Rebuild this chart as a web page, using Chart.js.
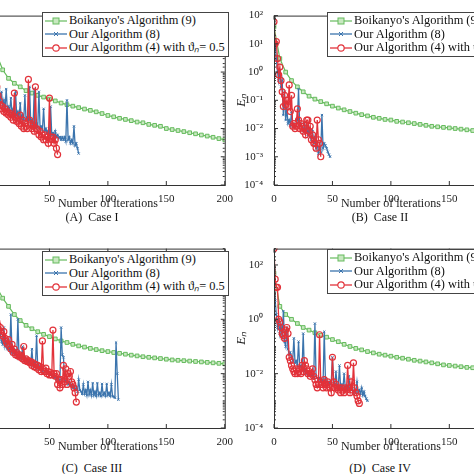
<!DOCTYPE html>
<html><head><meta charset="utf-8">
<script src="https://cdn.jsdelivr.net/npm/chart.js@4"></script>
<style>
body{margin:0;background:#fff;width:474px;height:474px;overflow:hidden;position:relative;font-family:"Liberation Serif",serif}
canvas{position:absolute}
.cap{position:absolute;font-size:12px;transform:translateX(-50%);white-space:nowrap;color:#111}
.leg{position:absolute;background:#fff;border:1px solid #444;font-size:12.4px;line-height:13px;padding:1px 3px 1px 2px;white-space:nowrap;color:#111}
.leg div{display:flex;align-items:center;height:13.5px}
.leg svg{margin-right:2px}
</style></head><body>
<canvas id="cA"></canvas><canvas id="cB"></canvas><canvas id="cC"></canvas><canvas id="cD"></canvas>
<div class="cap" style="left:92px;top:210px">(A)&nbsp; Case I</div>
<div class="cap" style="left:380px;top:210px">(B)&nbsp; Case II</div>
<div class="cap" style="left:92px;top:461px">(C)&nbsp; Case III</div>
<div class="cap" style="left:380px;top:461px">(D)&nbsp; Case IV</div>
<script>
// series names
const names = ["Boikanyo's Algorithm (9)", 'Our Algorithm (8)', 'Our Algorithm (4) with ϑ<i>ₙ</i> = 0.5'];
const greenStep = 5;

// Case I
const greenA = [30,4,1.2,0.6,0.4,0.3,0.22,0.18,0.15,0.13,0.11,0.095,0.08,0.07,0.062,0.055,0.049,0.044,0.039,0.034,0.029,0.026,0.023,0.021,0.019,0.017,0.016,0.014,0.013,0.012,0.01,0.0092,0.0085,0.0078,0.0071,0.0065,0.0059,0.0054,0.0049,0.0044,0.004];
const blueA = [30,5,2,1,0.5,0.3,0.15,0.25,0.08,0.2,
  0.06,0.1,0.05,0.25,0.045,0.06,0.04,0.12,0.035,0.05,
  0.03,0.2,0.03,0.04,0.025,0.08,0.022,0.03,0.02,0.15,
  0.02,0.025,0.018,0.3,0.015,0.02,0.013,0.25,0.012,0.015,
  0.011,0.2,0.01,0.012,0.009,0.05,0.008,0.01,0.007,0.008,
  0.006,0.06,0.006,0.007,0.005,0.008,0.005,0.006,0.0045,0.005,
  0.004,0.005,0.004,0.005,0.0035,0.1,0.004,0.005,0.003,0.004,
  0.003,0.012,0.0025,0.003,0.002,0.0013];
const redA = [40,8,3,1,0.6,0.3,0.15,0.1,0.07,0.05,
  0.06,0.04,0.05,0.035,0.04,0.03,0.035,0.025,0.03,0.02,
  0.18,0.025,0.018,0.02,0.015,0.03,0.012,0.02,0.01,0.015,
  0.012,0.01,0.55,0.02,0.015,0.01,0.012,0.008,0.3,0.01,
  0.009,0.006,0.008,0.005,0.006,0.004,0.006,0.004,0.005,0.003,
  0.12,0.005,0.004,0.005,0.003,0.004,0.002,0.0012];

// Case II
const greenB = [40,3,1,0.5,0.3,0.2,0.14,0.11,0.09,0.075,0.062,0.053,0.046,0.04,0.035,0.031,0.028,0.025,0.023,0.021,0.02,0.018,0.017,0.016,0.015,0.014,0.013,0.012,0.0115,0.011,0.0105,0.01,0.0095,0.009,0.0085,0.008,0.0077,0.0074,0.0071,0.0068,0.0065];
const blueB = [20,10,3,1,0.5,1.2,0.3,0.5,0.03,0.2,
  0.02,0.05,0.015,0.02,0.013,0.04,0.012,0.015,0.011,0.012,
  0.02,0.25,0.012,0.015,0.01,0.008,0.015,0.007,0.012,0.006,
  0.01,0.005,0.004,0.008,0.003,0.005,0.002,0.003,0.0013,0.002,
  0.0015,0.03,0.002,0.003,0.0025,0.002,0.0015,0.0012,0.001];
const redB = [60,10,12,3,0.8,1.5,0.5,0.2,0.06,0.15,
  0.07,0.1,0.06,0.35,0.04,0.15,0.012,0.015,0.01,0.012,
  0.05,0.02,0.01,0.015,0.012,0.008,0.01,0.006,0.02,0.02,
  0.008,0.012,0.004,0.006,0.003,0.003,0.002,0.02,0.004,0.003,0.001];

// Case III
const greenC = [60,15,6,3,1.5,0.9,0.6,0.45,0.35,0.28,0.23,0.19,0.16,0.14,0.12,0.105,0.095,0.085,0.077,0.07,0.065,0.06,0.056,0.052,0.048,0.045,0.042,0.04,0.038,0.036,0.034,0.032,0.031,0.03,0.029,0.028,0.027,0.026,0.025,0.024,0.023];
const blueC = [100,20,5,2,1,0.5,0.35,0.2,0.3,0.15,
  0.12,0.5,0.1,0.15,0.08,0.1,0.07,1.5,0.06,0.08,
  0.05,0.07,0.045,1.0,0.04,0.05,0.035,0.1,0.03,0.04,
  0.028,0.035,0.025,0.03,0.022,0.08,0.02,0.025,0.018,0.25,
  0.016,0.02,0.014,0.016,0.012,0.014,0.011,0.012,0.01,0.011,
  0.009,0.01,0.008,0.009,0.007,0.008,0.006,0.007,0.0055,0.006,
  0.5,0.05,0.04,0.006,0.005,0.006,0.004,0.005,0.0035,0.004,
  0.003,0.0035,0.0025,0.003,0.0022,0.006,0.0025,0.0022,0.0018,0.004,
  0.0018,0.0025,0.0016,0.005,0.0017,0.0025,0.0016,0.0045,0.0016,0.0022,
  0.0015,0.0045,0.0016,0.002,0.0015,0.0042,0.0016,0.002,0.0015,0.0042,
  0.0016,0.002,0.0015,0.004,0.0015,0.0014,0.0013,0.14,0.01,0.0011];
const redC = [80,15,4,1.5,1.0,0.8,0.6,0.4,0.5,0.3,
  0.25,0.35,0.2,0.15,0.12,0.18,0.1,0.08,0.12,0.06,
  0.08,0.05,0.06,0.045,0.05,0.04,0.045,0.035,0.1,0.03,
  0.035,0.028,0.03,0.025,0.028,0.02,0.025,0.018,0.022,0.016,
  0.02,0.014,0.018,0.012,0.16,0.014,0.012,0.016,0.01,0.012,
  0.009,0.011,0.009,0.4,0.01,0.008,0.01,0.004,0.006,0.003,
  0.006,0.004,0.02,0.005,0.015,0.004,0.01,0.008,0.012,0.005,
  0.004,0.003,0.002,0.0009];

// Case IV
const greenD = [50,3,1.5,1.0,0.7,0.5,0.4,0.32,0.26,0.22,0.18,0.15,0.12,0.1,0.085,0.075,0.065,0.058,0.052,0.048,0.044,0.04,0.037,0.034,0.031,0.029,0.027,0.025,0.023,0.021,0.02,0.019,0.018,0.017,0.0165,0.016,0.0155,0.015,0.0145,0.014,0.0135];
const blueD = [30,5,1.5,0.5,1.0,0.3,0.6,0.2,2.0,0.15,
  0.1,0.5,0.08,0.05,0.06,0.04,0.03,0.2,0.025,0.03,
  0.02,0.15,0.018,0.02,0.015,0.3,0.012,0.015,0.01,0.012,
  0.009,0.01,0.008,0.009,0.007,0.7,0.008,0.007,0.006,0.007,
  0.005,0.006,0.005,0.35,0.006,0.005,0.004,0.005,0.004,0.005,
  0.04,0.005,0.004,0.012,0.004,0.003,0.02,0.003,0.004,0.003,
  0.01,0.003,0.0035,0.0025,0.008,0.003,0.0025,0.003,0.002,0.0025,
  0.002,0.005,0.002,0.0025,0.0018,0.003,0.0016,0.0022,0.0015,0.0012,0.001];
const redD = [400,30,15,15,1.0,0.8,0.5,0.3,0.25,0.2,
  0.4,0.5,0.3,0.04,0.03,0.02,0.015,0.012,0.01,0.015,
  0.01,0.012,0.015,0.01,0.02,0.012,0.03,0.02,0.015,0.01,
  0.012,0.008,0.01,0.015,0.008,0.006,0.004,0.003,0.004,0.27,
  0.005,0.004,0.003,0.006,0.004,0.003,0.005,0.004,0.003,0.002,
  0.04,0.005,0.003,0.004,0.003,0.0025,0.003,0.002,0.003,0.0025,
  0.002,0.003,0.0025,0.02,0.003,0.002,0.005,0.0025,0.025,0.003,
  0.002,0.0015,0.001,0.0008];

const xTicks = [0, 50, 100, 150, 200];
const sup = {'-':'⁻','0':'⁰','1':'¹','2':'²','3':'³','4':'⁴'};

const GREEN = '#66bb5e', BLUE = '#3b74ad', RED = '#e2323a';
const toXY = (arr, step) => arr.map((v, i) => ({x: i * step, y: v}));

const frame = {
  id: 'frame',
  afterDraw(c) {
    const a = c.chartArea, ctx = c.ctx;
    ctx.save();
    ctx.strokeStyle = '#333'; ctx.lineWidth = 1;
    ctx.strokeRect(a.left + 0.5, a.top + 0.5, a.right - a.left, a.bottom - a.top);
    // inward ticks
    const xs = c.scales.x, ys = c.scales.y;
    ctx.beginPath();
    xTicks.forEach(t => { const p = xs.getPixelForValue(t); ctx.moveTo(p, a.bottom); ctx.lineTo(p, a.bottom - 4); ctx.moveTo(p, a.top); ctx.lineTo(p, a.top + 4); });
    ys.ticks.forEach(t => { const p = ys.getPixelForValue(t.value); const major = t.label !== ''; const l = major ? 4 : 2;
      ctx.moveTo(a.left, p); ctx.lineTo(a.left + l, p); ctx.moveTo(a.right, p); ctx.lineTo(a.right - l, p); });
    ctx.stroke();
    ctx.restore();
  }
};

function makeChart(id, green, blue, red, yMin, yMax, every, showTitle, left, top, plotH) {
  const el = document.getElementById(id);
  const w = 282, h = 4 + plotH + 26;
  el.width = w; el.height = h;
  el.style.left = left + 'px'; el.style.top = (top - 4) + 'px';
  el.style.width = w + 'px'; el.style.height = h + 'px';
  new Chart(el, {
    type: 'line',
    data: { datasets: [
      { data: toXY(green, greenStep), borderColor: GREEN, backgroundColor: '#c8e8c0', borderWidth: 1.2, pointStyle: 'rect', pointRadius: 2.6, pointBorderWidth: 1, order: 3 },
      { data: toXY(blue, 1), borderColor: BLUE, backgroundColor: BLUE, borderWidth: 1.3, pointStyle: 'crossRot', pointRadius: 1.6, pointBorderWidth: 1, order: 2 },
      { data: toXY(red, 1), borderColor: RED, backgroundColor: 'rgba(255,255,255,0)', borderWidth: 1.3, pointStyle: 'circle', pointRadius: 3, pointBorderWidth: 1.2, order: 1 }
    ]},
    options: {
      responsive: false, animation: false, devicePixelRatio: 1,
      layout: { padding: { top: 4, right: 4, left: 0, bottom: 0 } },
      plugins: { legend: { display: false }, tooltip: { enabled: false } },
      scales: {
        x: { type: 'linear', min: 0, max: 200, grid: { display: false }, border: { display: false },
             afterBuildTicks: s => { s.ticks = xTicks.map(v => ({ value: v })); },
             afterFit: s => { s.height = 26; },
             ticks: { color: '#222', font: { family: 'Liberation Serif', size: 11 }, padding: 0 },
             title: { display: true, text: 'Number of iterations', color: '#222', font: { family: 'Liberation Serif', size: 12 }, padding: 0 } },
        y: { type: 'logarithmic', min: yMin, max: yMax, grid: { display: false }, border: { display: false },
             afterFit: s => { s.width = 40; },
             ticks: { color: '#222', font: { family: 'Liberation Serif', size: 11 }, autoSkip: false,
               callback: v => { const e = Math.round(Math.log10(v)); if (Math.abs(Math.log10(v) - e) > 1e-6 || e % every) return '';
                 return '10' + String(e).split('').map(ch => sup[ch]).join(''); } },
             title: { display: showTitle, text: 'Eₙ', color: '#222', font: { family: 'Liberation Serif', size: 13, style: 'italic' }, padding: 0 } }
      }
    },
    plugins: [frame]
  });
}

makeChart('cA', greenA, blueA, redA, 1e-4, 1e2, 1, false, -49.5, 10, 175);
makeChart('cB', greenB, blueB, redB, 1e-4, 1e2, 1, true, 234, 10, 175);
makeChart('cC', greenC, blueC, redC, 1e-4, 400, 2, false, -49.5, 243, 185);
makeChart('cD', greenD, blueD, redD, 1e-4, 400, 2, true, 234, 243, 185);

function legend(left, top) {
  const d = document.createElement('div');
  d.className = 'leg'; d.style.left = left + 'px'; d.style.top = top + 'px';
  const marks = [
    `<line x1="0" y1="6" x2="22" y2="6" stroke="${GREEN}" stroke-width="1.2"/><rect x="8" y="3" width="6" height="6" fill="#c8e8c0" stroke="${GREEN}"/>`,
    `<line x1="0" y1="6" x2="22" y2="6" stroke="${BLUE}" stroke-width="1.3"/><path d="M9 4L13 8M13 4L9 8" stroke="${BLUE}"/>`,
    `<line x1="0" y1="6" x2="22" y2="6" stroke="${RED}" stroke-width="1.3"/><circle cx="11" cy="6" r="3.2" fill="#fff" stroke="${RED}" stroke-width="1.2"/>`
  ];
  d.innerHTML = names.map((n, i) => `<div><svg width="22" height="12">${marks[i]}</svg>${n}</div>`).join('');
  document.body.appendChild(d);
}
legend(42, 12); legend(327, 12); legend(42, 251); legend(327, 249);
</script>
</body></html>
